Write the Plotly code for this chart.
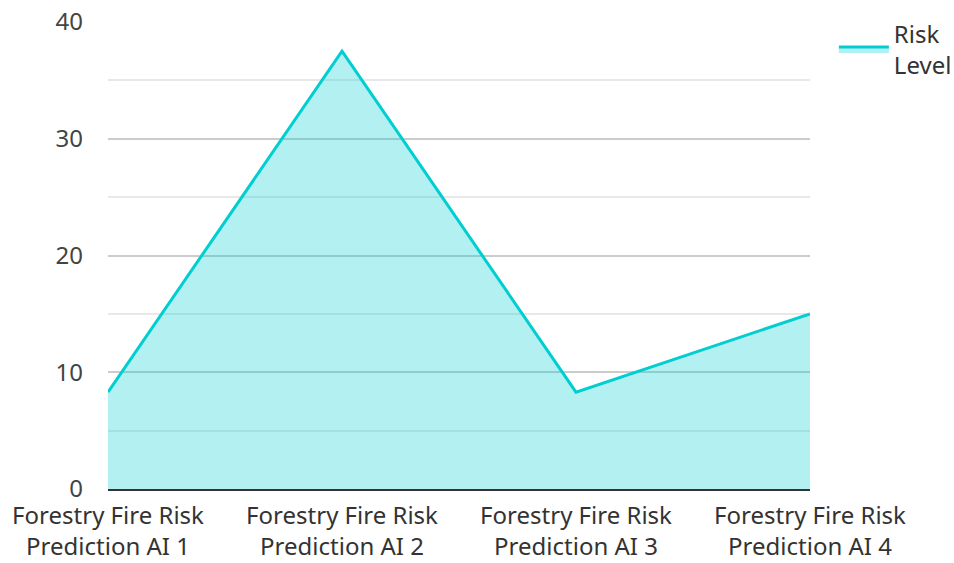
import plotly.graph_objects as go

categories = ["Forestry Fire Risk<br>Prediction AI 1", "Forestry Fire Risk<br>Prediction AI 2",
              "Forestry Fire Risk<br>Prediction AI 3", "Forestry Fire Risk<br>Prediction AI 4"]
risk_level = [8.3, 37.5, 8.3, 15.0]
y_ticks = [0, 10, 20, 30, 40]

fig = go.Figure()
fig.add_trace(go.Scatter(
    x=categories, y=risk_level, mode="lines", name="Risk<br>Level",
    fill="tozeroy", fillcolor="rgba(0,206,209,0.3)",
    line=dict(color="#00CED1", width=3),
))

fig.update_layout(
    width=954, height=563,
    margin=dict(l=108, r=144, t=22, b=74, autoexpand=False),
    paper_bgcolor="white", plot_bgcolor="white",
    font=dict(family="Noto Sans", size=24, color="#333"),
    showlegend=True,
    legend=dict(x=1.034, y=1.023, xanchor="left", yanchor="top", itemwidth=50,
                font=dict(size=24, color="#333"), bgcolor="rgba(0,0,0,0)"),
    xaxis=dict(range=[0, 3], showgrid=False, showline=True, linecolor="#333", linewidth=2,
               automargin=False, ticks="", ticklabelstandoff=4, tickfont=dict(size=24, color="#333")),
    yaxis=dict(range=[0, 40], tickvals=y_ticks, showgrid=True, gridcolor="#cccccc", gridwidth=2,
               automargin=False, zeroline=False, showline=False, ticks="", ticklabelstandoff=24,
               tickfont=dict(size=24, color="#444"),
               minor=dict(dtick=5, showgrid=True, gridcolor="#e8e8e8", gridwidth=2)),
)
fig.write_html("out.html")
